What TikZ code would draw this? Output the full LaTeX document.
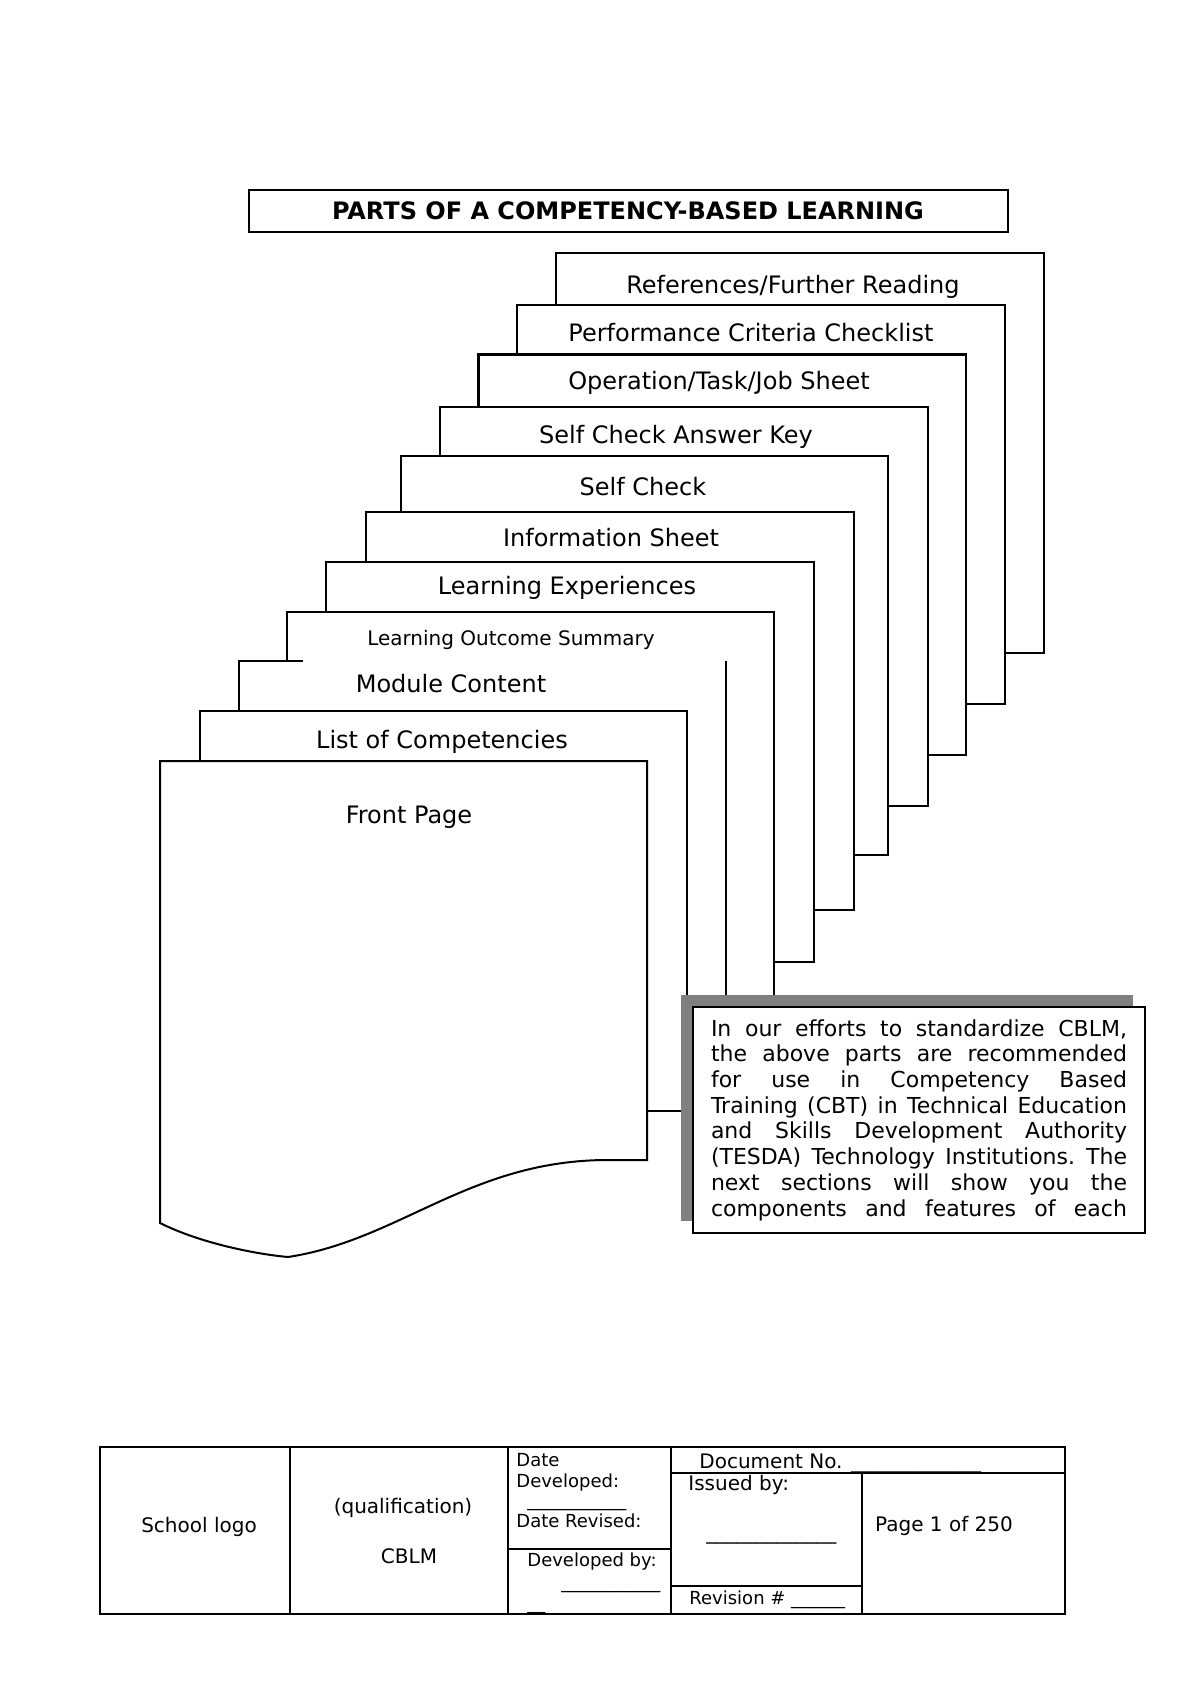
\documentclass[tikz,border=0pt]{standalone}
\usepackage{fontspec}
\setmainfont{DejaVu Sans}
\usetikzlibrary{shadows}
\newcommand{\noteline}[1]{{\spaceskip=0.318em plus 1fil\relax\makebox[208pt][s]{#1}}}
\tikzset{
  page/.style={draw=black, line width=1pt, fill=white},
  plabel/.style={font=\fontsize{12}{14}\selectfont, inner sep=0pt},
  titlebox/.style={draw=black, line width=1pt, minimum width=379.5pt, minimum height=21pt,
    font=\bfseries\fontsize{12}{14}\selectfont},
  note/.style={draw=black, line width=1pt, fill=white, text width=208pt,
    inner xsep=9pt, minimum height=113pt, font=\fontsize{11}{12.85}\selectfont,
    general shadow={fill=gray, shadow xshift=-6pt, shadow yshift=6pt}},
  % footer
  ftable/.style={draw=black, line width=1pt},
  fline/.style={draw=black, line width=0.6pt},
  ftext/.style={font=\fontsize{10}{12}\selectfont, inner sep=0pt},
  fsmall/.style={font=\fontsize{9}{11}\selectfont, inner sep=0pt}
}
\begin{document}
\begin{tikzpicture}[x=0.5pt, y=-0.5pt]
  \useasboundingbox (0,0) rectangle (1200,1698);
  \node[titlebox] (title) at (628,211) {PARTS OF A COMPETENCY-BASED LEARNING};

  % pages, back to front
  \draw[page] (556,253) rectangle (1044,653);
  \node[plabel] (refs) at (793,287) {References/Further Reading};
  \draw[page] (517,305) rectangle (1005,704);
  \node[plabel] (perf) at (751,333) {Performance Criteria Checklist};
  \draw[page] (478,354) rectangle (966,755);
  \draw[line width=1.5pt] (478,755) -- (478,354) -- (966,354);
  \node[plabel] (oper) at (719,383) {Operation/Task/Job Sheet};
  \draw[page] (440,407) rectangle (928,806);
  \node[plabel] (key) at (676,437) {Self Check Answer Key};
  \draw[page] (401,456) rectangle (888,855);
  \node[plabel] (check) at (643,487) {Self Check};
  \draw[page] (366,512) rectangle (854,910);
  \node[plabel] (info) at (611,538) {Information Sheet};
  \draw[page] (326,562) rectangle (814,962);
  \node[plabel] (exp) at (567,588) {Learning Experiences};
  \draw[page] (287,612) rectangle (774,1100);
  \node[plabel, font=\fontsize{10}{12}\selectfont] (los) at (511,640) {Learning Outcome Summary};
  \fill[white] (239,661) rectangle (726,1100);
  \draw[line width=1pt] (303,661) -- (239,661) -- (239,1100) (726,661) -- (726,1100);
  \node[plabel] (content) at (451,684) {Module Content};
  \draw[page] (200,711) rectangle (687,1111);
  \node[plabel] (comp) at (442,742) {List of Competencies};
  \draw[page] (160,761) -- (647,761) -- (647,1160) -- (608,1160)
    .. controls (470,1160) and (400,1240) .. (288,1257)
    .. controls (255,1254) and (200,1243) .. (160,1223) -- cycle;
  \node[plabel] (front) at (409,817) {Front Page};

  \node[note] (note) at (919,1120) {%
    \noteline{In our efforts to standardize CBLM,}\\
    \noteline{the above parts are recommended}\\
    \noteline{for use in Competency Based}\\
    \noteline{Training (CBT) in Technical Education}\\
    \noteline{and Skills Development Authority}\\
    \noteline{(TESDA) Technology Institutions. The}\\
    \noteline{next sections will show you the}\\
    \noteline{components and features of each}};

  % footer
  \draw[ftable] (100,1447) rectangle (1065,1614);
  \draw[fline] (290,1447) -- (290,1614) (508,1447) -- (508,1614);
  \draw[ftable] (671,1447) -- (671,1614) (671,1473) -- (1065,1473) (862,1473) -- (862,1614)
    (508,1549) -- (671,1549) (671,1586) -- (862,1586);
  \node[ftext] (logo) at (199,1527) {School logo};
  \node[ftext] (qual) at (403,1508) {(qualification)};
  \node[ftext] (cblm) at (409,1556) {CBLM};
  \node[fsmall, anchor=west] (date) at (516,1460) {Date};
  \node[fsmall, anchor=west] (devd) at (516,1483) {Developed:};
  \node[fsmall, anchor=base west] (devline) at (527,1506) {\_\_\_\_\_\_\_\_\_\_\_};
  \node[fsmall, anchor=west] (revd) at (516,1521) {Date Revised:};
  \node[fsmall, anchor=west] (devby) at (527,1562) {Developed by:};
  \node[fsmall, anchor=base west] (byline) at (561,1588) {\_\_\_\_\_\_\_\_\_\_\_};
  \node[fsmall, anchor=base west] (byend) at (527,1609) {\_\_};
  \node[ftext, anchor=base west] (docno) at (699,1468) {Document No. \_\_\_\_\_\_\_\_\_\_\_\_\_};
  \node[ftext, anchor=west] (issued) at (688,1485) {Issued by:};
  \node[ftext, anchor=base west] (issline) at (706,1539) {\_\_\_\_\_\_\_\_\_\_\_\_\_};
  \node[fsmall, anchor=base west] (rev) at (689,1604) {Revision \# \_\_\_\_\_\_};
  \node[ftext] (pageno) at (944,1526) {Page 1 of 250};
\end{tikzpicture}
\end{document}
